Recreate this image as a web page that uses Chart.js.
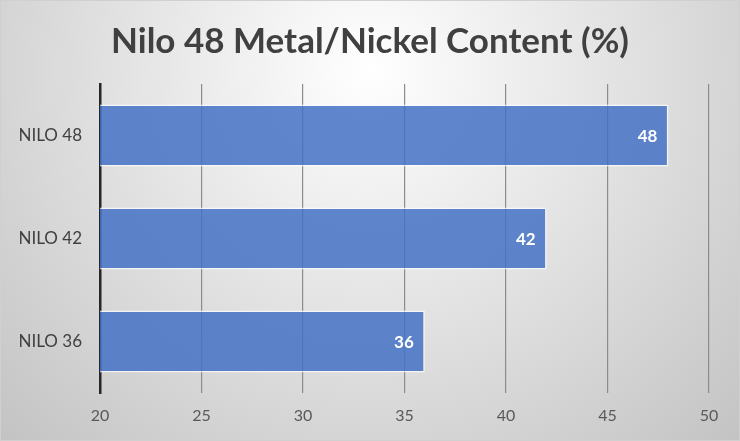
<!DOCTYPE html>
<html><head><meta charset="utf-8">
<script src="https://cdn.jsdelivr.net/npm/chart.js@4"></script>
<style>html,body{margin:0;padding:0;background:#fff}#wrap{width:740px;height:441px}</style>
</head><body><div id="wrap"><canvas id="c" width="740" height="441"></canvas></div>
<script>
const categories = ["NILO 48", "NILO 42", "NILO 36"];
const nickelContent = [48, 42, 36];
const xTicks = [20, 25, 30, 35, 40, 45, 50];
const titleText = "Nilo 48 Metal/Nickel Content (%)";

const bgPlugin = {
  id: 'bg',
  beforeDraw(chart) {
    const ctx = chart.ctx, w = chart.width, h = chart.height;
    ctx.save();
    const g = ctx.createRadialGradient(370, 70, 0, 370, 70, 560);
    g.addColorStop(0, '#ffffff');
    g.addColorStop(1, '#bfbfbf');
    ctx.fillStyle = g;
    ctx.fillRect(0, 0, w, h);
    ctx.strokeStyle = '#d0d0d0';
    ctx.lineWidth = 1;
    ctx.strokeRect(0.5, 0.5, w - 1, h - 1);
    ctx.restore();
  },
  afterDraw(chart) {
    const ctx = chart.ctx;
    ctx.save();
    ctx.font = 'bold 35px Lato, "Open Sans", sans-serif';
    ctx.fillStyle = '#404040';
    ctx.textAlign = 'center';
    ctx.textBaseline = 'middle';
    ctx.fillText(titleText, 370, 42);
    ctx.restore();
  }
};
const labelPlugin = {
  id: 'vals',
  afterDatasetsDraw(chart) {
    const ctx = chart.ctx;
    const meta = chart.getDatasetMeta(0);
    ctx.save();
    ctx.font = 'bold 17px Lato, "Open Sans", sans-serif';
    ctx.fillStyle = '#ffffff';
    ctx.textAlign = 'right';
    ctx.textBaseline = 'middle';
    meta.data.forEach((bar, i) => {
      ctx.fillText(String(nickelContent[i]), bar.x - 11, bar.y + 1);
    });
    ctx.restore();
  }
};

new Chart(document.getElementById('c'), {
  type: 'bar',
  data: {
    labels: categories,
    datasets: [{
      data: nickelContent,
      backgroundColor: 'rgba(68,114,196,0.85)',
      borderColor: 'rgba(255,255,255,0.7)',
      borderWidth: 1.5,
      borderSkipped: false,
      barPercentage: 0.6,
      categoryPercentage: 1.0
    }]
  },
  options: {
    indexAxis: 'y',
    responsive: false,
    animation: false,
    devicePixelRatio: 1,
    layout: { padding: { left: 0, right: 31, top: 84, bottom: 0 } },
    plugins: {
      legend: { display: false },
      tooltip: { enabled: false },
      title: { display: false }
    },
    scales: {
      x: {
        min: 20, max: 50,
        afterBuildTicks(scale) { scale.ticks = xTicks.map(v => ({ value: v })); },
        afterFit(scale) { scale.height = 48; },
        grid: { color: '#8c8c8c', lineWidth: 1.2, drawTicks: false },
        border: { display: false },
        ticks: { color: '#595959', padding: 13, font: { family: 'Lato, "Open Sans", sans-serif', size: 16 } }
      },
      y: {
        afterFit(scale) { scale.width = 100; },
        grid: { display: false, drawTicks: false },
        border: { display: true, color: '#262626', width: 2.5 },
        ticks: { color: '#404040', padding: 18, font: { family: 'Lato, "Open Sans", sans-serif', size: 17 } }
      }
    }
  },
  plugins: [bgPlugin, labelPlugin]
});
</script>
</body></html>
